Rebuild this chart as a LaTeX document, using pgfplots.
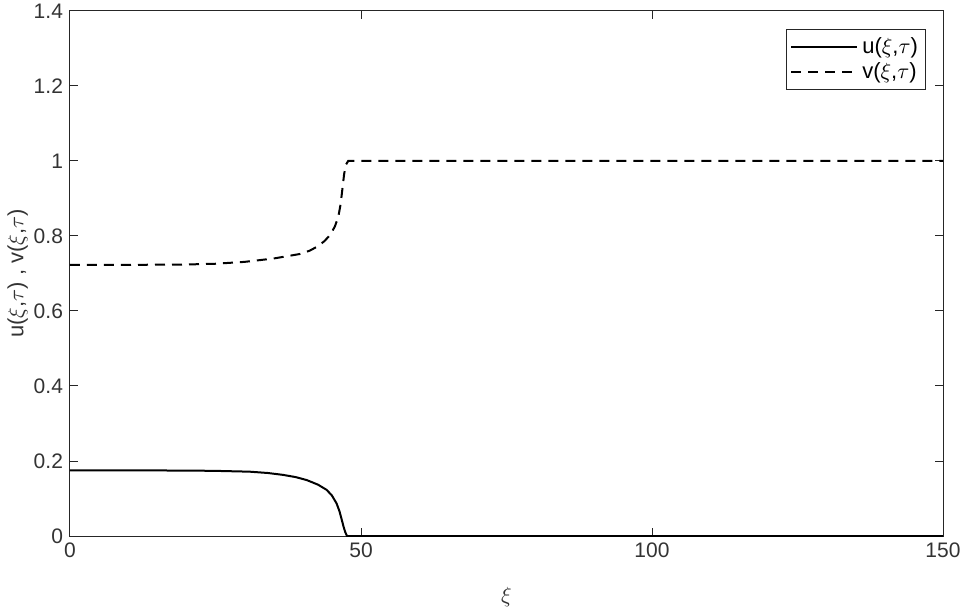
\documentclass[border=0pt]{standalone}
\usepackage{fontspec}
\setmainfont{Liberation Sans}
\usepackage{pgfplots}
\pgfplotsset{compat=1.18}
\begin{document}
\begin{tikzpicture}
\path[use as bounding box] (-35pt,-36.5pt) rectangle (445.5pt,268pt);
\begin{axis}[
    scale only axis,
    width=436.5pt,
    height=262.5pt,
    at={(0,0)}, anchor=south west,
    xmin=0, xmax=150,
    ymin=0, ymax=1.4,
    xtick={0,50,100,150},
    ytick={0,0.2,0.4,0.6,0.8,1,1.2,1.4},
    yticklabels={0,0.2,0.4,0.6,0.8,1,1.2,1.4},
    tick align=inside,
    major tick length=4pt,
    axis line style={black!85, line width=0.5pt},
    tick style={black!85, line width=0.5pt},
    ticklabel style={font=\fontsize{10.5}{12}\selectfont, text=black!80},
    /pgf/number format/assume math mode=true,
    label style={font=\fontsize{11}{13}\selectfont, text=black!80},
    xlabel={$\xi$},
    ylabel={u($\xi$,$\tau$) , v($\xi$,$\tau$)},
    xlabel style={yshift=-8pt},
    ylabel style={yshift=-4pt},
    legend style={at={(0.981,0.966)}, anchor=north east,
        draw=black!85, line width=0.5pt,
        font=\fontsize{11}{12.5}\selectfont,
        inner sep=2pt, row sep=-1pt},
    legend cell align=left,
    legend image post style={line width=1pt},
    legend image code/.code={\draw[#1] (0cm,0cm) -- (33pt,0cm);},
]
\addplot[black, line width=1pt] coordinates {
    (0,0.175) (10,0.175) (20,0.1745) (25,0.1737) (30.9,0.1715) (34,0.168)
    (36.6,0.163) (38.8,0.157) (40.7,0.149) (42.6,0.137) (44.1,0.123)
    (45,0.108) (45.8,0.087) (46.3,0.066) (46.7,0.043) (47.0,0.025)
    (47.3,0.01) (47.6,0) (150,0)
};
\addlegendentry{u($\xi$,$\tau$)}
\addplot[black, line width=1pt, dash pattern=on 5pt off 3.5pt] coordinates {
    (0,0.723) (10,0.723) (20,0.724) (25,0.726) (30,0.731) (35,0.740)
    (39.5,0.752) (41.2,0.761) (42.4,0.771) (43.7,0.786) (44.7,0.803)
    (45.5,0.825) (46.1,0.851) (46.5,0.885) (46.8,0.925) (47.1,0.965)
    (47.4,0.99) (47.8,1.0) (150,1)
};
\addlegendentry{v($\xi$,$\tau$)}
\end{axis}
\end{tikzpicture}
\end{document}
